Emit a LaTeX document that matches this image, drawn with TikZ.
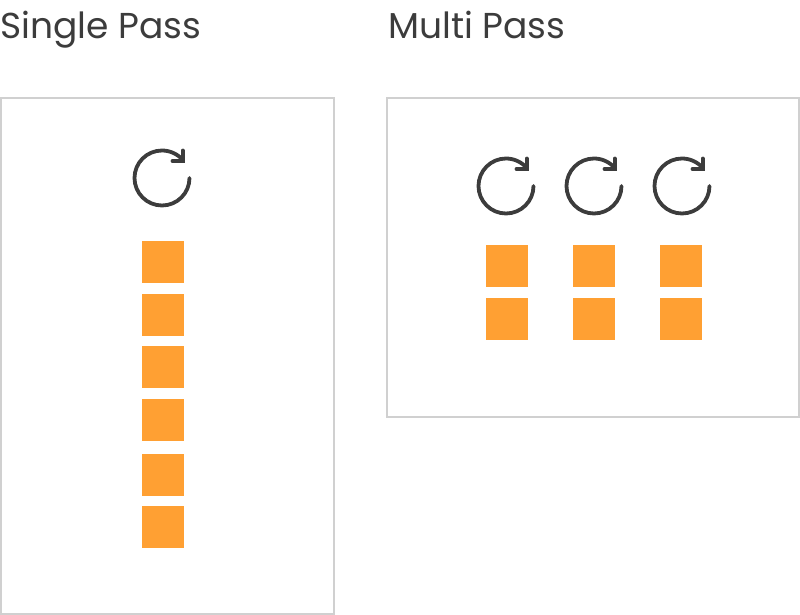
\documentclass[tikz,border=0pt]{standalone}
\usepackage{fontspec}
\setmainfont{Poppins}
\definecolor{ink}{HTML}{3C3C3C}
\definecolor{frame}{HTML}{D0D0D0}
\definecolor{block}{HTML}{FFA033}
\tikzset{
  panel/.style={draw=frame, line width=2pt},
  blockbox/.style={fill=block, inner sep=0pt, minimum size=42pt},
  title/.style={text=ink, font=\fontsize{36}{40}\selectfont, anchor=base west, inner sep=0pt},
  spin/.style={draw=ink, line width=3.8pt, line cap=round, line join=miter},
  pics/cycle/.style={code={
    \draw[spin] (27.5,0) arc (0:320:27.5);
    \draw[spin] (20.7,-27.5) -- (20.7,-17) -- (10.5,-17);
  }},
}
\begin{document}
\begin{tikzpicture}[x=1pt,y=-1pt]
  \useasboundingbox (0,0) rectangle (800,615);
  % titles
  \node[title] (singletitle) at (0,38.5) {Single Pass};
  \node[title] (multititle) at (388,38.5) {Multi Pass};
  % panels
  \draw[panel] (1,98) rectangle (334,614);
  \draw[panel] (387,98) rectangle (799,417);
  % single pass
  \pic at (162,178) {cycle};
  \foreach \y [count=\i] in {262,315,367,420,475,527}
    \node[blockbox] (single\i) at (163,\y) {};
  % multi pass
  \foreach \x/\b/\c in {506/507/a,594/594/b,682/681/c}{
    \pic at (\x,186) {cycle};
    \node[blockbox] (top\c) at (\b,266) {};
    \node[blockbox] (low\c) at (\b,319) {};
  }
\end{tikzpicture}
\end{document}
